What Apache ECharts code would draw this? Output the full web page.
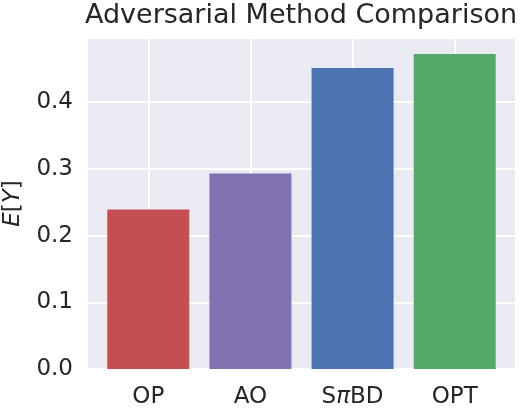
<!DOCTYPE html>
<html>
<head>
<meta charset="utf-8">
<script src="https://cdn.jsdelivr.net/npm/echarts@6/dist/echarts.min.js"></script>
<style>
html,body{margin:0;padding:0;background:#fff;}
#c{width:530px;height:408px;}
</style>
</head>
<body>
<div id="c"></div>
<script>
var categories = ['OP', 'AO', 'SπBD', 'OPT'];
var values = [0.239, 0.293, 0.451, 0.472];
var colors = ['#C44E52', '#8172B2', '#4C72B0', '#55A868'];
var yTicks = [0, 0.1, 0.2, 0.3, 0.4];

var FONT = 'DejaVu Sans';
var TXT = '#262626';

var chart = echarts.init(document.getElementById('c'), null, {renderer: 'canvas'});
var positions = categories.map(function (c, i) { return i; });

chart.setOption({
  animation: false,
  title: {
    text: 'Adversarial Method Comparison',
    left: 296,
    textAlign: 'center',
    top: -3,
    textStyle: {fontFamily: FONT, fontSize: 27, fontWeight: 'normal', color: TXT}
  },
  grid: {
    left: 88, right: 15, top: 38, bottom: 39,
    containLabel: false,
    outerBoundsMode: 'none',
    show: true, backgroundColor: '#EAEAF2', borderWidth: 0
  },
  xAxis: {
    type: 'value',
    min: -0.59, max: 3.59,
    axisLine: {show: false},
    axisTick: {show: false, customValues: positions},
    axisLabel: {
      customValues: positions,
      margin: 17,
      fontFamily: FONT, fontSize: 23, color: TXT,
      formatter: function (v) {
        var s = categories[Math.round(v)];
        if (s === 'SπBD') return 'S{i|π}BD';
        return s;
      },
      rich: {i: {fontFamily: FONT, fontSize: 23, color: TXT, fontStyle: 'italic'}}
    },
    splitLine: {show: true, lineStyle: {color: '#ffffff', width: 2}}
  },
  yAxis: {
    type: 'value',
    min: 0, max: 0.496,
    interval: 0.1,
    axisLine: {show: false},
    axisTick: {show: false},
    axisLabel: {
      margin: 15,
      fontFamily: FONT, fontSize: 23, color: TXT,
      showMaxLabel: false,
      formatter: function (v) {
        for (var k = 0; k < yTicks.length; k++) {
          if (Math.abs(v - yTicks[k]) < 1e-6) return yTicks[k].toFixed(1);
        }
        return '';
      }
    },
    splitLine: {show: true, lineStyle: {color: '#ffffff', width: 2}},
    name: '{i|E}[{i|Y}]',
    nameLocation: 'middle',
    nameGap: 63,
    nameRotate: 90,
    nameTextStyle: {
      fontFamily: FONT, fontSize: 23, color: TXT,
      rich: {i: {fontFamily: FONT, fontSize: 23, color: TXT, fontStyle: 'italic'}}
    }
  },
  series: [{
    type: 'bar',
    barWidth: 82,
    data: values.map(function (v, i) {
      return {value: [positions[i], v], itemStyle: {color: colors[i]}};
    })
  }]
});
</script>
</body>
</html>
